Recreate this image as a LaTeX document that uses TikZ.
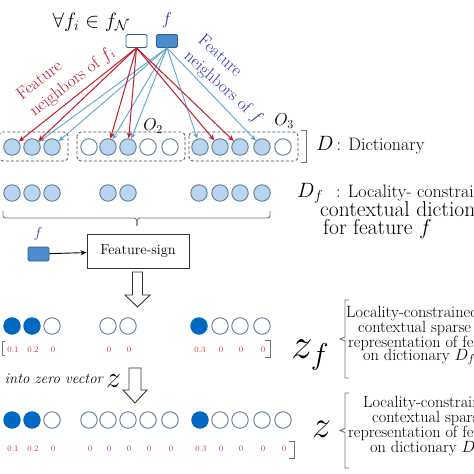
\RequirePackage{fix-cm}
\documentclass[tikz,border=0pt]{standalone}
\usetikzlibrary{arrows.meta}
\definecolor{lightb}{RGB}{185,212,238}
\definecolor{darkb}{RGB}{0,104,192}
\definecolor{cedge}{RGB}{95,125,150}
\definecolor{redc}{RGB}{192,28,40}
\definecolor{redtxt}{RGB}{180,30,45}
\definecolor{bluc}{RGB}{95,165,212}
\definecolor{blutxt}{RGB}{50,50,175}
\definecolor{valred}{RGB}{200,55,55}
\definecolor{boxblue}{RGB}{75,140,205}
\definecolor{boxedge}{RGB}{45,95,150}
\begin{document}
\begin{tikzpicture}[x=1pt,y=-1pt,
  cir/.style={circle,inner sep=0pt,minimum size=16.5pt,line width=0.9pt,draw=cedge},
  lb/.style={cir,fill=lightb},
  db/.style={cir,fill=darkb,draw=darkb},
  wc/.style={cir,fill=white},
  val/.style={text=valred,font=\fontsize{8.5}{10}\selectfont,inner sep=0pt},
  gbox/.style={draw=black!70,line width=0.8pt,dash pattern=on 3pt off 2pt,rounded corners=4pt},
  redarr/.style={draw=redc,line width=1pt,-{Stealth[length=6pt,width=5pt]}},
  bluarr/.style={draw=bluc,line width=0.9pt,-{Stealth[length=6pt,width=5pt]}},
  brk/.style={draw=black!55,line width=0.9pt},
  lbl/.style={inner sep=0pt,font=\fontsize{17.3}{21}\selectfont,align=left},
  desc/.style={inner sep=0pt,anchor=west,font=\fontsize{21.5}{24}\selectfont},
  small/.style={inner sep=0pt,anchor=west,font=\fontsize{16.3}{18}\selectfont},
  hollow/.style={draw=black!80,fill=white,line width=0.9pt,line join=miter},
  fb/.style={draw=boxedge,fill=boxblue,line width=0.8pt,rounded corners=1.5pt,minimum width=21pt,minimum height=13pt,inner sep=0pt}
]
\useasboundingbox (0,0) rectangle (474,474);
\clip (0,0) rectangle (474,474);

% ---------- top ----------
\node[inner sep=0pt,font=\fontsize{20.7}{24}\selectfont] (fall) at (91,22) {$\forall f_i\in f_{\mathcal N}$};
\node[inner sep=0pt,font=\fontsize{17.3}{21}\selectfont,text=blutxt] (flab) at (167,20) {$f$};
\node[fb,fill=white] (wbox) at (136.5,41) {};
\node[fb] (fbox) at (167,41) {};

% ---------- row 1: dictionary ----------
\foreach \x/\t [count=\i] in {12/lb,32/lb,52/lb,89/wc,108/lb,128/lb,148/wc,170/wc,200/lb,220/lb,240/lb,262/lb,283/wc}
  \node[\t] (a\i) at (\x,147) {};
\draw[gbox] (-1,132) rectangle (68,161);
\draw[gbox] (77,132) rectangle (185,161);
\draw[gbox] (189,132) rectangle (298,161);
\node[inner sep=0pt,font=\fontsize{17.3}{21}\selectfont] (o2) at (153,126) {$O_2$};
\node[inner sep=0pt,font=\fontsize{17.3}{21}\selectfont] (o3) at (284,121) {$O_3$};
\draw[brk] (301,130) -- (306,130) -- (306,162) -- (301,162);
\node[anchor=west,inner sep=0pt] (dlab) at (316,145) {\fontsize{20.7}{24}\selectfont$D$\fontsize{18}{21}\selectfont\,: Dictionary};

% arrows
\foreach \k in {2,3,5,6,9,12} \draw[bluarr] (fbox.south) -- (a\k);
\foreach \k in {1,2,5,6,10,11} \draw[redarr] (wbox.south) -- (a\k);
\node[lbl,text=redtxt,rotate=38] (rlab) at (66,74) {Feature\\neighbors of $f_i$};
\node[lbl,text=blutxt,rotate=-42] (blab) at (230,80) {Feature\\neighbors of $f$};

% ---------- row 2: D_f ----------
\foreach \x [count=\i] in {12,32,52,108,128,199,220,240,262}
  \node[lb] (b\i) at (\x,193) {};
\draw[brk,rounded corners=2.5pt] (3,211) -- (3,218) -- (136.5,218) -- (137,226);
\draw[brk,rounded corners=2.5pt] (137,226) -- (137.5,218) -- (270,218) -- (270,211);
\node[anchor=west,inner sep=0pt] (dflab) at (297,193) {\fontsize{20.7}{24}\selectfont$D_f$};
\node[desc,font=\fontsize{18}{21}\selectfont] (df1) at (336,193) {: Locality- constrained};
\node[desc] (df2) at (320,211) {contextual dictionary};
\node[desc] (df3) at (323,229) {for feature $f$};

% ---------- feature-sign ----------
\node[fb,minimum height=14pt] (fbox2) at (38.5,254) {};
\node[inner sep=0pt,font=\fontsize{14.4}{17}\selectfont,text=blutxt] (flab2) at (38,234) {$f$};
\node[draw=black!80,line width=0.9pt,minimum width=102pt,minimum height=34pt,inner sep=0pt,font=\fontsize{14.4}{17}\selectfont] (fs) at (138,251) {Feature-sign};
\draw[line width=0.9pt,-{Stealth[length=6pt,width=5pt]}] (fbox2) -- (fs);
\draw[hollow] (132.5,272) -- (142.5,272) -- (142.5,295) -- (150,295) -- (137.5,307) -- (125,295) -- (132.5,295) -- cycle;

% ---------- row 3: z_f ----------
\foreach \x/\t/\v [count=\i] in {12/db/0.1,32/db/0.2,52/wc/0,108/wc/0,128/wc/0,199/db/0.3,220/wc/0,240/wc/0,262/wc/0}
{ \node[\t] (c\i) at (\x,326) {};
  \node[val] (cv\i) at (\x+1,350) {\v}; }
\draw[brk] (5,341) -- (2,341) -- (2,355) -- (5,355);
\draw[brk] (265,340) -- (270,340) -- (270,357) -- (265,357);
\node[anchor=base west,inner sep=0pt] (zf) at (291,358) {\fontsize{43}{50}\selectfont$z_f$};
\draw[brk] (349,300) -- (345,300) -- (345,337) -- (340,339) -- (345,341) -- (345,378) -- (349,378);
\node[small] (zf1) at (346,313) {Locality-constrained};
\node[small] (zf2) at (358,328) {contextual sparse};
\node[small] (zf3) at (348,343) {representation of feature $f$};
\node[small] (zf4) at (363,357) {on dictionary $D_f$};

% ---------- projection ----------
\node[anchor=base east,inner sep=0pt,font=\fontsize{14.8}{18}\selectfont\itshape] (proj) at (103,383) {into zero vector};
\node[anchor=base west,inner sep=0pt] (zz) at (106,387) {\fontsize{30}{34}\selectfont$z$};
\draw[hollow] (129,368) -- (141,368) -- (141,390) -- (147,390) -- (135,403) -- (123,390) -- (129,390) -- cycle;

% ---------- row 4: z ----------
\foreach \x/\t/\v [count=\i] in {12/db/0.1,32/db/0.2,52/wc/0,89/wc/0,108/wc/0,128/wc/0,148/wc/0,170/wc/0,200/db/0.3,220/wc/0,240/wc/0,262/wc/0,283/wc/0}
{ \node[\t] (d\i) at (\x,420) {};
  \node[val] (dv\i) at (\x+1,449) {\v}; }
\draw[brk] (289,441) -- (294,441) -- (294,458) -- (289,458);
\node[anchor=base west,inner sep=0pt] (zl) at (312,437) {\fontsize{38}{44}\selectfont$z$};
\draw[brk] (349,393) -- (345,393) -- (345,428.5) -- (340,430.5) -- (345,432.5) -- (345,468) -- (349,468);
\node[small] (zt1) at (363,403) {Locality-constrained};
\node[small] (zt2) at (372,418) {contextual sparse};
\node[small] (zt3) at (348,433) {representation of feature $f$};
\node[small] (zt4) at (370,448) {on dictionary $D$};
\end{tikzpicture}
\end{document}
